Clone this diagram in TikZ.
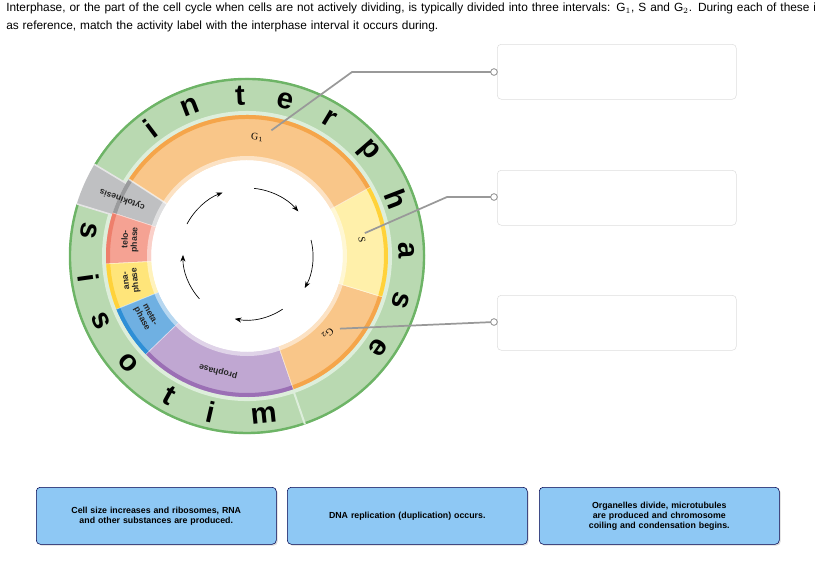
\documentclass[tikz,border=0pt]{standalone}
\usepackage{fontspec}
\setmainfont{Liberation Sans}
\newfontfamily\serifx{Liberation Serif}
\usetikzlibrary{shadows,arrows.meta}
\definecolor{grn}{HTML}{B9D9B1}
\definecolor{grnd}{HTML}{6DB466}
\definecolor{grnl}{HTML}{DDEEDB}
\definecolor{org}{HTML}{F9C689}
\definecolor{orgd}{HTML}{F5A54A}
\definecolor{yel}{HTML}{FFF0AA}
\definecolor{yeld}{HTML}{FFD23A}
\definecolor{pur}{HTML}{C0A7D2}
\definecolor{purd}{HTML}{9B6FB5}
\definecolor{blu}{HTML}{6FB0E2}
\definecolor{blud}{HTML}{2E8FD6}
\definecolor{ana}{HTML}{FFE57A}
\definecolor{sal}{HTML}{F5A293}
\definecolor{sald}{HTML}{EE7F6C}
\definecolor{gry}{HTML}{BFC0C2}
\definecolor{gryd}{HTML}{9A9B9D}
\definecolor{btn}{HTML}{8EC8F4}
\newcommand\annsec[5]{\fill[#5] (#1:#3) arc[start angle=#1,end angle=#2,radius=#3] -- (#2:#4) arc[start angle=#2,end angle=#1,radius=#4] -- cycle;}
\newcommand\phaseseg[4]{%
 \annsec{#1}{#2}{96}{141}{#3}
 \annsec{#1}{#2}{137}{141}{#4}
 \annsec{#1}{#2}{96}{100}{white,opacity=0.5}
 \draw[white,opacity=0.6,line width=1.2pt] (#1:96) -- (#1:141);}
\tikzset{
 big/.style={font=\fontsize{22}{22}\selectfont\bfseries,text=black},
 seglab/.style={font=\fontsize{6.5}{7}\selectfont\bfseries,align=center,text=black!85,inner sep=1pt},
 glab/.style={font=\serifx\fontsize{7.5}{7.5}\selectfont},
 drop/.style={draw=black!13,rounded corners=3pt,minimum width=179.25pt,minimum height=41.25pt,fill=white},
 button/.style={draw=black!70!blue,fill=btn,rounded corners=3pt,minimum width=180pt,minimum height=42.75pt,text width=150pt,align=center,font=\fontsize{6.6}{7.5}\selectfont\bfseries,drop shadow={opacity=0.3,shadow xshift=1pt,shadow yshift=-1pt}},
 leader/.style={draw=black!40,line width=1.3pt},
 pin/.style={circle,draw=black!45,fill=white,inner sep=0pt,minimum size=5pt,line width=0.6pt},
 cyc/.style={-{Stealth[length=5pt]},line width=0.5pt},
}
\begin{document}
\begin{tikzpicture}[x=0.75pt,y=-0.75pt]
\useasboundingbox (0,0) rectangle (815,561);
\clip (0,0) rectangle (815,561);
\node[anchor=north west,inner sep=0pt,font=\fontsize{8.9}{13.2}\selectfont,text width=900pt,align=left] (title) at (6,3)
 {Interphase, or the part of the cell cycle when cells are not actively dividing, is typically divided into three intervals: G$_1$, S and G$_2$. During each of these intervals, the cell performs\\ as reference, match the activity label with the interphase interval it occurs during.};
\coordinate (C) at (247,256);
\begin{scope}[shift={(C)},y=0.75pt]
 % green rings
 \annsec{-71}{149}{141}{178}{grn}
 \annsec{163}{289}{141}{178}{grn}
 \annsec{-71}{149}{141}{145}{grnl}
 \annsec{163}{289}{141}{145}{grnl}
 \draw[grnd,line width=1.8pt] (-71:177) arc[start angle=-71,end angle=149,radius=177];
 \draw[grnd,line width=1.8pt] (163:177) arc[start angle=163,end angle=289,radius=177];
 \draw[grnl,line width=1.5pt] (-71:141) -- (-71:178);
 \annsec{149}{163}{141}{178}{gry}
 \draw[white!80!gray,line width=1.2pt] (149:141) -- (149:178) (163:141) -- (163:178);
 % phase ring
 \phaseseg{29}{147}{org}{orgd}
 \phaseseg{-17}{29}{yel}{yeld}
 \phaseseg{-71}{-17}{org}{orgd}
 \phaseseg{-136}{-71}{pur}{purd}
 \phaseseg{-158}{-136}{blu}{blud}
 \phaseseg{-177}{-158}{ana}{yeld}
 \phaseseg{162}{183}{sal}{sald}
 \phaseseg{147}{162}{gry}{gryd}
 % labels
 \node[glab,rotate=-5] (g1) at (85:119) {G$_1$};
 \node[glab,rotate=-82] (s) at (8:116) {S};
 \node[glab,rotate=-134] (g2) at (-44:112) {G$_2$};
 \node[seglab,rotate=166] (pro) at (-104:119) {prophase};
 \node[seglab,rotate=-62] (meta) at (-149:118) {meta-\\phase};
 \node[seglab,rotate=96] (ana) at (-168:118) {ana-\\phase};
 \node[seglab,rotate=88] (telo) at (172:118) {telo-\\phase};
 \node[seglab,rotate=160] (cyto) at (155.5:137) {cytokinesis};
 % big letters
 \foreach \l/\a [count=\i] in {i/127,n/111,t/92.5,e/76,r/59,p/41,h/21,a/2,s/-16,e/-35}
   \node[big,rotate=\a-90] (I\i) at (\a:160) {\l};
 \foreach \l/\a [count=\i] in {m/-84,i/-103,t/-119,o/-138,s/-156,i/-172,s/171}
   \node[big,rotate=\a+90] (M\i) at (\a:160) {\l};
 % cycle arrows
 \draw[cyc] (152:68) arc[start angle=152,end angle=111,radius=68];
 \draw[cyc] (84:68) arc[start angle=84,end angle=41,radius=68];
 \draw[cyc] (14:66) arc[start angle=14,end angle=-29,radius=66];
 \draw[cyc] (-56:64) arc[start angle=-56,end angle=-101,radius=64];
 \draw[cyc] (-138:64) arc[start angle=-138,end angle=-181,radius=64];
 \coordinate (lg1) at (79:128);
 \coordinate (ls) at (11:120);
 \coordinate (lg2) at (-38:118);
\end{scope}
% drop boxes
\node[drop,anchor=north west] (d1) at (497,44) {};
\node[drop,anchor=north west] (d2) at (497,170) {};
\node[drop,anchor=north west] (d3) at (497,295) {};
% leaders
\coordinate (k1) at (352,72);
\coordinate (k2) at (447,197);
\draw[leader] (lg1) -- (k1) -- (494,72) node[pin] (p1) {};
\draw[leader] (ls) -- (k2) -- (494,197) node[pin] (p2) {};
\draw[leader] (lg2) -- (494,322) node[pin] (p3) {};
% buttons
\node[button,anchor=north west] (b1) at (36,487) {Cell size increases and ribosomes, RNA and other substances are produced.};
\node[button,anchor=north west] (b2) at (287,487) {DNA replication (duplication) occurs.};
\node[button,anchor=north west] (b3) at (539,487) {Organelles divide, microtubules are produced and chromosome coiling and condensation begins.};
\end{tikzpicture}
\end{document}
